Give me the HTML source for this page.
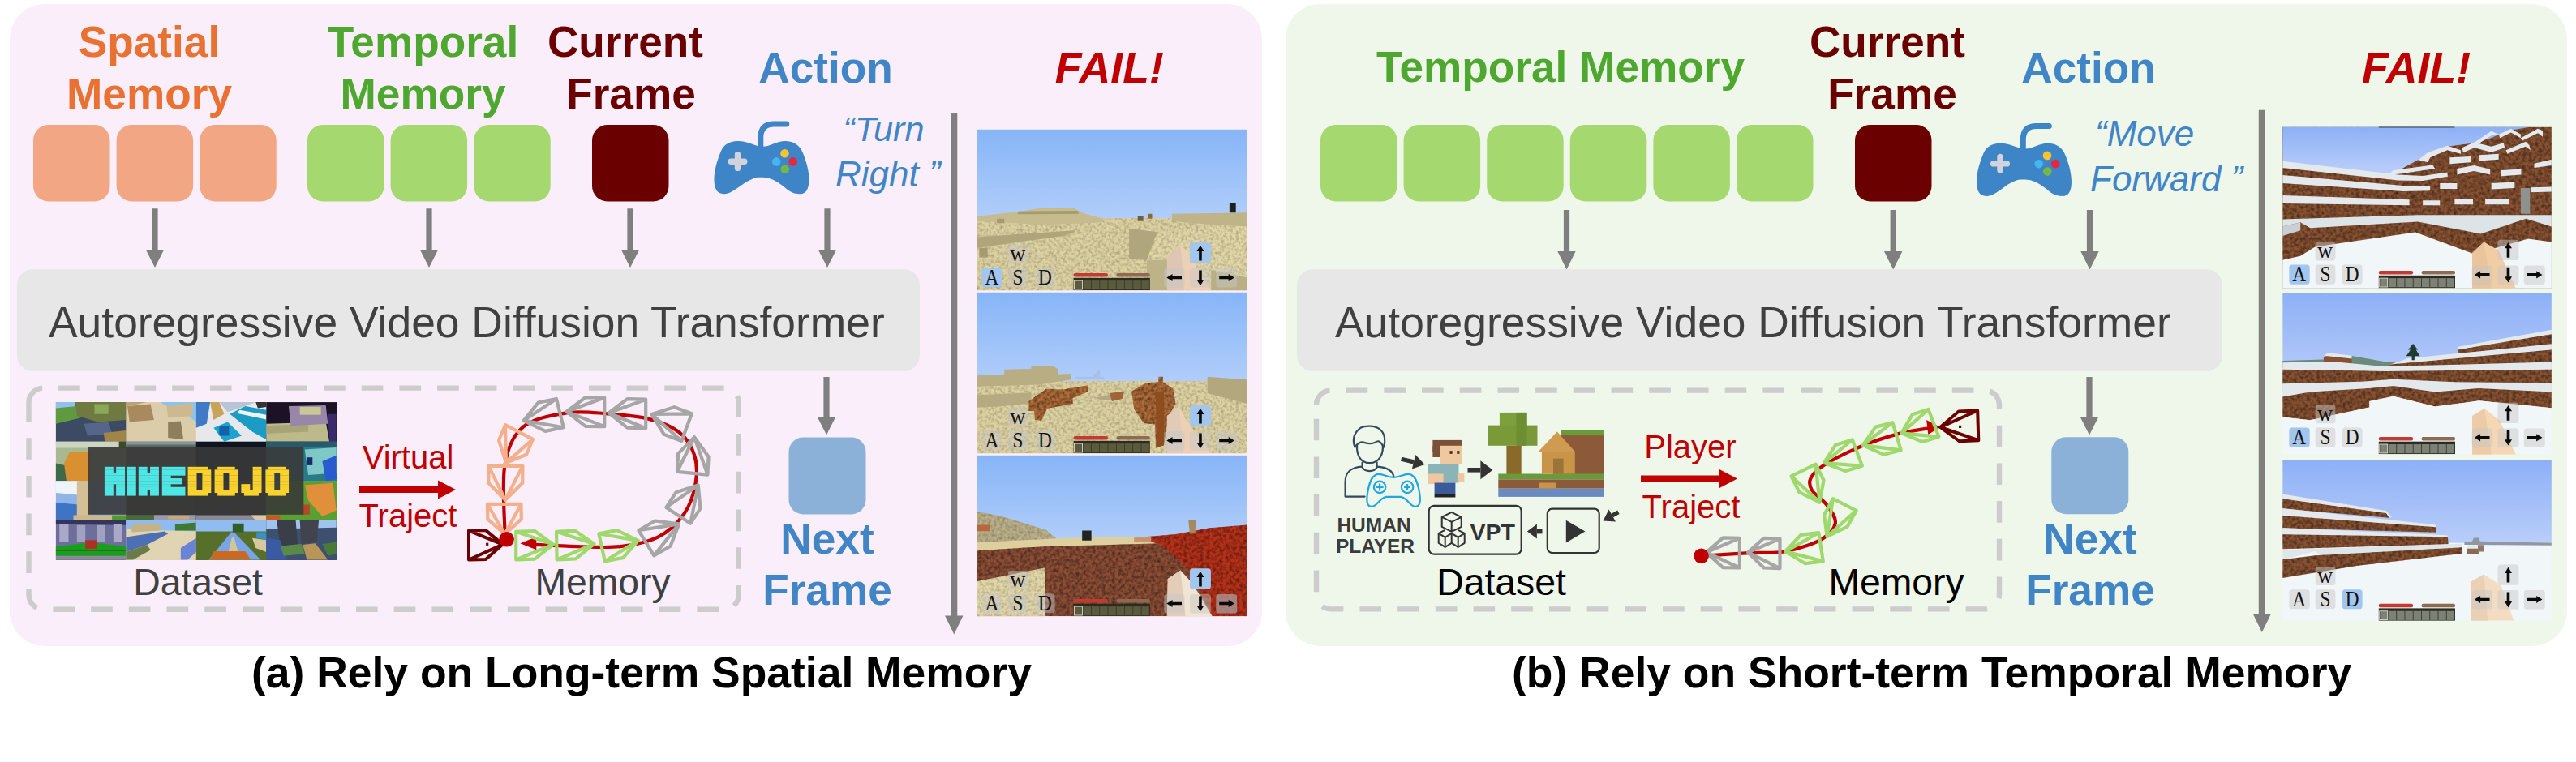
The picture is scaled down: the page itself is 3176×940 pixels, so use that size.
<!DOCTYPE html>
<html><head><meta charset="utf-8"><title>Memory comparison figure</title>
<style>
html,body{margin:0;padding:0;background:#fff;}
#c{position:relative;width:3176px;height:940px;overflow:hidden;background:#fff;font-family:"Liberation Sans", sans-serif;}
.p{position:absolute;}
.t{position:absolute;white-space:nowrap;}
svg.o{position:absolute;left:0;top:0;}
</style></head><body>
<div id="c">
<div class="p" style="left:12.3px;top:5px;width:1543.4px;height:791.6px;border-radius:43px;background:#f9eef9;"></div>
<div class="p" style="left:1585.2px;top:5px;width:1580px;height:791.6px;border-radius:43px;background:#eef7ea;"></div>
<svg class="o" width="3176" height="940" viewBox="0 0 3176 940">
<rect x="41.0" y="154.0" width="94.5" height="94.5" rx="19" fill="#f2a683" />
<rect x="143.6" y="154.0" width="94.5" height="94.5" rx="19" fill="#f2a683" />
<rect x="246.2" y="154.0" width="94.5" height="94.5" rx="19" fill="#f2a683" />
<rect x="379.0" y="154.0" width="94.5" height="94.5" rx="19" fill="#a5d86f" />
<rect x="481.6" y="154.0" width="94.5" height="94.5" rx="19" fill="#a5d86f" />
<rect x="584.2" y="154.0" width="94.5" height="94.5" rx="19" fill="#a5d86f" />
<rect x="730.0" y="154.0" width="94.5" height="94.5" rx="19" fill="#6b0000" />
<path d="M187.4 257.3H194.6V308.0H202.2L191.0 330.0L179.8 308.0H187.4Z" fill="#7f7f7f"/>
<path d="M525.4 257.3H532.6V308.0H540.2L529.0 330.0L517.8 308.0H525.4Z" fill="#7f7f7f"/>
<path d="M773.4 257.3H780.6V308.0H788.2L777.0 330.0L765.8 308.0H773.4Z" fill="#7f7f7f"/>
<path d="M1016.4 257.3H1023.6V308.0H1031.2L1020.0 330.0L1008.8 308.0H1016.4Z" fill="#7f7f7f"/>
<rect x="21.0" y="332.0" width="1113.0" height="126.0" rx="20" fill="#e7e7e7" />
<path d="M1172.3 139.0H1180.3V759.4H1187.5L1176.3 782.4L1165.0 759.4H1172.3Z" fill="#7f7f7f"/>
<path d="M35.5 496.6A18 18 0 0 1 53.5 478.6H892.8A18 18 0 0 1 910.8 496.6V733.7A18 18 0 0 1 892.8 751.7H53.5A18 18 0 0 1 35.5 733.7Z" fill="none" stroke="#cccccc" stroke-width="6.4" stroke-dasharray="26.65 20.05"/>
<path d="M443.0 600.0H540.0V592.5L562.0 604.0L540.0 615.5V608.0H443.0Z" fill="#c00000"/>
<path d="M1015.4 465.0H1022.6V514.5H1030.2L1019.0 536.5L1007.8 514.5H1015.4Z" fill="#7f7f7f"/>
<rect x="972.5" y="539.4" width="95.0" height="95.0" rx="18" fill="#8bb1d8" />
<rect x="1628.0" y="154.0" width="94.5" height="94.5" rx="19" fill="#a5d86f" />
<rect x="1730.6" y="154.0" width="94.5" height="94.5" rx="19" fill="#a5d86f" />
<rect x="1833.2" y="154.0" width="94.5" height="94.5" rx="19" fill="#a5d86f" />
<rect x="1935.8" y="154.0" width="94.5" height="94.5" rx="19" fill="#a5d86f" />
<rect x="2038.4" y="154.0" width="94.5" height="94.5" rx="19" fill="#a5d86f" />
<rect x="2141.0" y="154.0" width="94.5" height="94.5" rx="19" fill="#a5d86f" />
<rect x="2287.0" y="154.0" width="94.5" height="94.5" rx="19" fill="#6b0000" />
<path d="M1927.9 259.0H1935.1V310.1H1942.7L1931.5 332.6L1920.3 310.1H1927.9Z" fill="#7f7f7f"/>
<path d="M2330.6 259.0H2337.8V310.1H2345.4L2334.2 332.6L2323.0 310.1H2330.6Z" fill="#7f7f7f"/>
<path d="M2572.9 259.0H2580.1V310.1H2587.7L2576.5 332.6L2565.3 310.1H2572.9Z" fill="#7f7f7f"/>
<rect x="1599.0" y="332.0" width="1141.0" height="126.0" rx="20" fill="#e7e7e7" />
<path d="M2784.8 135.8H2792.8V757.0H2800.1L2788.8 780.0L2777.6 757.0H2784.8Z" fill="#7f7f7f"/>
<path d="M1623 499.6A18 18 0 0 1 1641 481.6H2447A18 18 0 0 1 2465 499.6V733.4000000000001A18 18 0 0 1 2447 751.4000000000001H1641A18 18 0 0 1 1623 733.4000000000001Z" fill="none" stroke="#cccccc" stroke-width="6.4" stroke-dasharray="26.65 20.05"/>
<path d="M2023.0 586.5H2120.0V579.0L2142.0 590.5L2120.0 602.0V594.5H2023.0Z" fill="#c00000"/>
<path d="M2572.4 465.0H2579.6V514.5H2587.2L2576.0 536.5L2564.8 514.5H2572.4Z" fill="#7f7f7f"/>
<rect x="2529.3" y="539.2" width="95.0" height="95.0" rx="18" fill="#8bb1d8" />
<g transform="translate(880.5,149.5)"><path d="M57.3 31 V20 Q57.3 3.4 74 3.4 H89.3" fill="none" stroke="#3d85c6" stroke-width="7" stroke-linecap="round"/><path d="M29 24.5 C40 24 50 31 59.7 31.3 C70 31 78 24 88.7 24.5 C100 25 106 31 109.1 38.5 C114 50 117 62 117 72 C117 84 113 90 105.7 89.7 C98 89.5 94 87 90.4 84.5 C84 79 80 76 75 73.5 C69 70 64 69.2 58 69.2 C53 69.2 50 69.5 47.7 70.9 C42 73 36 77 30.7 81.1 C24 86 18 90 11.9 89.7 C4 89.5 0 84 0 72 C0 62 3 50 8.5 36.8 C12 29 18 25 29 24.5Z" fill="#3d85c6"/><rect x="17" y="46" width="24" height="7.4" rx="3.7" fill="#d3d3db"/><rect x="25.3" y="37.6" width="7.4" height="24" rx="3.7" fill="#d3d3db"/><circle cx="87" cy="39.7" r="5.3" fill="#f7c331"/><circle cx="97.2" cy="49.9" r="5.3" fill="#e8273f"/><circle cx="76.7" cy="49.9" r="5.3" fill="#43b6f2"/><circle cx="87.3" cy="59.3" r="5.3" fill="#74b843"/></g>
<g transform="translate(2437,152.2)"><path d="M57.3 31 V20 Q57.3 3.4 74 3.4 H89.3" fill="none" stroke="#3d85c6" stroke-width="7" stroke-linecap="round"/><path d="M29 24.5 C40 24 50 31 59.7 31.3 C70 31 78 24 88.7 24.5 C100 25 106 31 109.1 38.5 C114 50 117 62 117 72 C117 84 113 90 105.7 89.7 C98 89.5 94 87 90.4 84.5 C84 79 80 76 75 73.5 C69 70 64 69.2 58 69.2 C53 69.2 50 69.5 47.7 70.9 C42 73 36 77 30.7 81.1 C24 86 18 90 11.9 89.7 C4 89.5 0 84 0 72 C0 62 3 50 8.5 36.8 C12 29 18 25 29 24.5Z" fill="#3d85c6"/><rect x="17" y="46" width="24" height="7.4" rx="3.7" fill="#d3d3db"/><rect x="25.3" y="37.6" width="7.4" height="24" rx="3.7" fill="#d3d3db"/><circle cx="87" cy="39.7" r="5.3" fill="#f7c331"/><circle cx="97.2" cy="49.9" r="5.3" fill="#e8273f"/><circle cx="76.7" cy="49.9" r="5.3" fill="#43b6f2"/><circle cx="87.3" cy="59.3" r="5.3" fill="#74b843"/></g>
<g transform="translate(68.9,496.1)"><rect x="0.0" y="0.0" width="86.9" height="49.0" fill="#3d4a63"/><polygon points="0.0,0.0 24.2,0.0 24.2,7.3 0.0,9.7" fill="#8fc0ee"/><polygon points="0.0,7.3 25.9,4.9 30.3,19.4 0.0,26.7" fill="#5f9a3e"/><polygon points="24.2,0.0 86.5,0.0 86.5,21.9 51.9,24.3 25.9,17.0" fill="#6f7a40"/><polygon points="47.5,2.4 64.8,2.4 64.8,14.6 47.5,14.6" fill="#8aa85a"/><polygon points="34.6,26.7 64.8,24.3 69.2,38.9 38.9,41.3" fill="#56668a"/><polygon points="58.8,37.9 86.5,35.0 86.5,48.6 60.5,48.6" fill="#a08448"/><rect x="86.5" y="0.0" width="86.9" height="49.0" fill="#dccdaa"/><polygon points="129.7,0.0 172.9,0.0 172.9,24.3 153.9,9.7 134.0,3.9" fill="#8cc2ee"/><polygon points="88.2,4.9 116.7,2.4 121.0,21.9 90.8,24.3" fill="#a98a5e"/><polygon points="136.6,4.9 168.6,1.0 168.6,17.0 138.3,19.4" fill="#cdb98f"/><polygon points="138.3,24.3 153.9,23.3 157.3,46.2 138.3,43.8" fill="#8e7f5c"/><polygon points="86.5,0.0 112.4,0.0 88.2,4.9 86.5,14.6" fill="#b7a27a"/><rect x="172.9" y="0.0" width="86.9" height="49.0" fill="#e6e8ec"/><polygon points="172.9,0.0 190.2,0.0 185.9,26.7 172.9,31.6" fill="#3f7ac6"/><polygon points="190.2,0.0 201.4,0.0 207.5,14.6 194.5,21.9" fill="#c8a45a"/><polygon points="214.4,14.6 233.4,4.9 259.4,9.7 259.4,46.2 242.1,36.5" fill="#1b9cc4"/><polygon points="226.5,9.7 259.4,15.6 259.4,21.4 223.0,13.6" fill="#eef2f4"/><polygon points="194.5,31.6 211.8,24.3 229.1,41.3 207.5,48.6" fill="#1aa3cc"/><polygon points="201.4,30.1 213.5,29.2 213.5,41.3 201.4,41.3" fill="#1560a8"/><polygon points="246.4,0.0 259.4,0.0 259.4,5.8 249.0,7.3" fill="#333"/><polygon points="201.4,0.0 246.4,0.0 233.4,4.9 211.8,12.2" fill="#b9c4d4"/><rect x="259.4" y="0.0" width="86.9" height="49.0" fill="#1c1226"/><polygon points="259.4,26.7 332.8,24.3 337.2,48.6 259.4,48.6" fill="#bdb98a"/><polygon points="259.4,29.2 311.2,26.7 311.2,36.5 259.4,38.9" fill="#a8a478"/><polygon points="287.0,4.9 332.8,3.9 335.4,26.7 289.6,29.2" fill="#9a86a8"/><polygon points="300.8,5.8 326.8,5.8 326.8,15.6 300.8,15.6" fill="#c9c795"/><polygon points="335.4,14.6 345.8,14.6 345.8,48.6 337.2,48.6" fill="#3a2a6a"/><rect x="0.0" y="48.6" width="86.9" height="49.0" fill="#a8b890"/><polygon points="0.0,48.6 77.8,48.6 77.8,56.4 0.0,56.4" fill="#cdd4c0"/><polygon points="77.8,48.6 86.5,48.6 86.5,56.4 77.8,56.4" fill="#3a4a2a"/><polygon points="17.3,60.8 43.2,60.8 43.2,97.2 13.0,97.2 8.6,77.8" fill="#d89030"/><polygon points="0.0,75.4 10.4,77.8 13.0,97.2 0.0,97.2" fill="#3f6a4a"/><rect x="86.5" y="48.6" width="86.9" height="49.0" fill="#5a6a5e"/><polygon points="86.5,48.6 172.9,48.6 172.9,52.5 86.5,52.5" fill="#8a94a8"/><rect x="172.9" y="48.6" width="86.9" height="49.0" fill="#0e1420"/><rect x="259.4" y="48.6" width="86.9" height="49.0" fill="#2a7a88"/><polygon points="306.9,58.3 345.8,55.9 345.8,87.5 311.2,89.9" fill="#7fc8c8"/><polygon points="328.5,72.9 345.8,65.6 345.8,94.8 332.8,97.2" fill="#2a5ad0"/><polygon points="309.5,68.1 316.4,68.1 316.4,77.8 309.5,77.8" fill="#1a2a6a"/><polygon points="259.4,48.6 345.8,48.6 345.8,55.4 259.4,55.4" fill="#2a5a6a"/><rect x="0.0" y="97.2" width="86.9" height="49.0" fill="#8fb4e6"/><polygon points="0.0,97.2 27.7,97.2 27.7,114.3 0.0,111.8" fill="#eef4fa"/><polygon points="0.0,124.0 27.7,126.4 27.7,145.9 0.0,145.9" fill="#3f74c4"/><polygon points="25.9,97.2 40.6,97.2 40.6,141.0 25.9,141.0" fill="#d4c094"/><polygon points="21.6,139.5 86.5,139.5 86.5,145.9 21.6,145.9" fill="#cbb98a"/><polygon points="69.2,139.5 86.5,139.5 86.5,145.9 69.2,145.9" fill="#4f9a2a"/><rect x="86.5" y="97.2" width="86.9" height="49.0" fill="#3d3d3a"/><polygon points="86.5,139.1 121.0,139.1 121.0,145.9 86.5,145.9" fill="#4a6a3a"/><polygon points="121.0,139.1 172.9,139.1 172.9,145.9 121.0,145.9" fill="#9a9aa8"/><polygon points="138.3,140.0 164.3,140.0 164.3,144.4 138.3,144.4" fill="#c8a878"/><rect x="172.9" y="97.2" width="86.9" height="49.0" fill="#333334"/><polygon points="172.9,139.5 259.4,139.5 259.4,145.9 172.9,145.9" fill="#8a8a92"/><polygon points="240.3,139.5 259.4,139.5 259.4,145.9 246.4,145.9" fill="#d8c8a0"/><rect x="259.4" y="97.2" width="86.9" height="49.0" fill="#5aa030"/><polygon points="306.9,102.1 341.5,99.7 345.8,133.7 328.5,141.0 311.2,121.5" fill="#e0903a"/><polygon points="259.4,139.5 276.6,139.5 276.6,145.9 259.4,145.9" fill="#c85a20"/><polygon points="304.3,126.4 312.9,126.4 312.9,138.6 304.3,138.6" fill="#b8442a"/><rect x="0.0" y="145.9" width="86.9" height="49.0" fill="#6e6e9c"/><polygon points="0.0,145.9 86.5,145.9 86.5,151.7 0.0,150.7" fill="#34345c"/><polygon points="4.3,150.7 15.6,150.7 15.6,172.6 4.3,172.6" fill="#a8a8c8"/><polygon points="25.9,151.7 36.3,151.7 36.3,172.6 25.9,172.6" fill="#a0a0c0"/><polygon points="50.1,151.7 60.5,151.7 60.5,172.6 50.1,172.6" fill="#a0a0c0"/><polygon points="70.9,150.7 82.1,150.7 82.1,172.6 70.9,172.6" fill="#a8a8c8"/><polygon points="0.0,177.9 43.2,173.1 86.5,177.9 86.5,189.6 0.0,189.6" fill="#18a01c"/><polygon points="0.0,189.6 86.5,189.6 86.5,194.5 0.0,194.5" fill="#8a8a92"/><polygon points="36.3,170.2 50.1,170.2 50.1,180.9 36.3,180.9" fill="#b03028"/><polygon points="0.0,181.8 86.5,181.8 86.5,183.8 0.0,183.8" fill="#2a6a22"/><rect x="86.5" y="145.9" width="86.9" height="49.0" fill="#e0d4b2"/><polygon points="86.5,145.9 172.9,145.9 172.9,159.5 86.5,156.6" fill="#8fbcf0"/><polygon points="93.4,151.7 112.4,148.8 129.7,151.7 129.7,158.5 93.4,160.4" fill="#c4b288"/><polygon points="86.5,166.3 134.0,159.5 138.3,162.4 112.4,176.0 86.5,184.8" fill="#4d70b4"/><polygon points="147.0,150.7 172.9,148.3 172.9,158.5 147.0,158.5" fill="#3f7a30"/><polygon points="153.9,179.9 172.9,167.7 172.9,184.8 162.5,194.5 153.9,194.5" fill="#6a82d8"/><polygon points="86.5,184.8 112.4,176.0 116.7,182.3 95.1,194.5 86.5,194.5" fill="#6a7a4a"/><rect x="172.9" y="145.9" width="86.9" height="49.0" fill="#56702c"/><polygon points="172.9,145.9 259.4,145.9 259.4,159.5 172.9,159.5" fill="#90bcf0"/><polygon points="216.1,160.4 219.6,160.4 252.4,194.5 188.5,194.5" fill="#78a4e8"/><polygon points="217.0,166.3 219.6,166.3 224.8,184.8 212.7,184.8" fill="#d4c49a"/><polygon points="194.5,183.8 233.4,183.8 240.3,194.5 190.2,194.5" fill="#c86a22"/><polygon points="217.9,149.7 231.7,149.7 231.7,160.4 217.9,160.4" fill="#2f5f24"/><polygon points="247.2,160.4 259.4,160.4 259.4,170.2 247.2,167.7" fill="#3a90c0"/><polygon points="242.1,167.7 259.4,170.2 259.4,184.8 246.4,179.9" fill="#d8c8a0"/><rect x="259.4" y="145.9" width="86.9" height="49.0" fill="#3d5070"/><polygon points="259.4,145.9 345.8,145.9 345.8,154.6 259.4,156.6" fill="#a0c4f0"/><polygon points="272.3,145.9 295.7,145.9 298.3,177.5 276.6,177.5" fill="#3a3e48"/><polygon points="300.8,145.9 324.2,145.9 321.6,172.6 302.6,175.0" fill="#41444e"/><polygon points="259.4,167.7 276.6,170.2 285.3,194.5 259.4,194.5" fill="#3a5aa4"/><polygon points="304.3,176.0 319.9,174.1 335.4,194.5 309.5,194.5" fill="#b8965a"/><polygon points="276.6,177.5 302.6,175.0 306.9,187.2 281.0,189.6" fill="#5a8a4a"/><polygon points="328.5,175.0 345.8,172.6 345.8,187.2 335.4,189.6" fill="#4a7a3a"/><rect x="40.1" y="55.9" width="265.3" height="82.8" fill="#383838" fill-opacity="0.9"/><rect x="60.00" y="79.70" width="10.88" height="3.76" fill="#4fe6e6"/><rect x="74.24" y="79.70" width="10.88" height="3.76" fill="#4fe6e6"/><rect x="60.00" y="83.26" width="10.88" height="3.76" fill="#4fe6e6"/><rect x="74.24" y="83.26" width="10.88" height="3.76" fill="#4fe6e6"/><rect x="60.00" y="86.82" width="25.12" height="3.76" fill="#4fe6e6"/><rect x="60.00" y="90.38" width="25.12" height="3.76" fill="#4fe6e6"/><rect x="60.00" y="93.94" width="25.12" height="3.76" fill="#4fe6e6"/><rect x="60.00" y="97.50" width="25.12" height="3.76" fill="#4fe6e6"/><rect x="60.00" y="101.06" width="10.88" height="3.76" fill="#4fe6e6"/><rect x="74.24" y="101.06" width="10.88" height="3.76" fill="#4fe6e6"/><rect x="60.00" y="104.62" width="10.88" height="3.76" fill="#4fe6e6"/><rect x="74.24" y="104.62" width="10.88" height="3.76" fill="#4fe6e6"/><rect x="60.00" y="108.18" width="10.88" height="3.76" fill="#4fe6e6"/><rect x="74.24" y="108.18" width="10.88" height="3.76" fill="#4fe6e6"/><rect x="60.00" y="111.74" width="10.88" height="3.76" fill="#4fe6e6"/><rect x="74.24" y="111.74" width="10.88" height="3.76" fill="#4fe6e6"/><rect x="88.00" y="79.70" width="10.88" height="3.76" fill="#4fe6e6"/><rect x="88.00" y="83.26" width="10.88" height="3.76" fill="#4fe6e6"/><rect x="88.00" y="86.82" width="10.88" height="3.76" fill="#4fe6e6"/><rect x="88.00" y="90.38" width="10.88" height="3.76" fill="#4fe6e6"/><rect x="88.00" y="93.94" width="10.88" height="3.76" fill="#4fe6e6"/><rect x="88.00" y="97.50" width="10.88" height="3.76" fill="#4fe6e6"/><rect x="88.00" y="101.06" width="10.88" height="3.76" fill="#4fe6e6"/><rect x="88.00" y="104.62" width="10.88" height="3.76" fill="#4fe6e6"/><rect x="88.00" y="108.18" width="10.88" height="3.76" fill="#4fe6e6"/><rect x="88.00" y="111.74" width="10.88" height="3.76" fill="#4fe6e6"/><rect x="101.90" y="79.70" width="10.88" height="3.76" fill="#4fe6e6"/><rect x="116.14" y="79.70" width="10.88" height="3.76" fill="#4fe6e6"/><rect x="101.90" y="83.26" width="10.88" height="3.76" fill="#4fe6e6"/><rect x="116.14" y="83.26" width="10.88" height="3.76" fill="#4fe6e6"/><rect x="101.90" y="86.82" width="25.12" height="3.76" fill="#4fe6e6"/><rect x="101.90" y="90.38" width="25.12" height="3.76" fill="#4fe6e6"/><rect x="101.90" y="93.94" width="25.12" height="3.76" fill="#4fe6e6"/><rect x="101.90" y="97.50" width="25.12" height="3.76" fill="#4fe6e6"/><rect x="101.90" y="101.06" width="25.12" height="3.76" fill="#4fe6e6"/><rect x="101.90" y="104.62" width="25.12" height="3.76" fill="#4fe6e6"/><rect x="101.90" y="108.18" width="10.88" height="3.76" fill="#4fe6e6"/><rect x="116.14" y="108.18" width="10.88" height="3.76" fill="#4fe6e6"/><rect x="101.90" y="111.74" width="10.88" height="3.76" fill="#4fe6e6"/><rect x="116.14" y="111.74" width="10.88" height="3.76" fill="#4fe6e6"/><rect x="130.90" y="79.70" width="28.68" height="3.76" fill="#4fe6e6"/><rect x="130.90" y="83.26" width="28.68" height="3.76" fill="#4fe6e6"/><rect x="130.90" y="86.82" width="28.68" height="3.76" fill="#4fe6e6"/><rect x="130.90" y="90.38" width="10.88" height="3.76" fill="#4fe6e6"/><rect x="130.90" y="93.94" width="25.12" height="3.76" fill="#4fe6e6"/><rect x="130.90" y="97.50" width="25.12" height="3.76" fill="#4fe6e6"/><rect x="130.90" y="101.06" width="10.88" height="3.76" fill="#4fe6e6"/><rect x="130.90" y="104.62" width="28.68" height="3.76" fill="#4fe6e6"/><rect x="130.90" y="108.18" width="28.68" height="3.76" fill="#4fe6e6"/><rect x="130.90" y="111.74" width="28.68" height="3.76" fill="#4fe6e6"/><rect x="162.70" y="79.70" width="25.12" height="3.76" fill="#f9d22e"/><rect x="162.70" y="83.26" width="28.68" height="3.76" fill="#f9d22e"/><rect x="162.70" y="86.82" width="10.88" height="3.76" fill="#f9d22e"/><rect x="180.50" y="86.82" width="10.88" height="3.76" fill="#f9d22e"/><rect x="162.70" y="90.38" width="10.88" height="3.76" fill="#f9d22e"/><rect x="180.50" y="90.38" width="10.88" height="3.76" fill="#f9d22e"/><rect x="162.70" y="93.94" width="10.88" height="3.76" fill="#f9d22e"/><rect x="180.50" y="93.94" width="10.88" height="3.76" fill="#f9d22e"/><rect x="162.70" y="97.50" width="10.88" height="3.76" fill="#f9d22e"/><rect x="180.50" y="97.50" width="10.88" height="3.76" fill="#f9d22e"/><rect x="162.70" y="101.06" width="10.88" height="3.76" fill="#f9d22e"/><rect x="180.50" y="101.06" width="10.88" height="3.76" fill="#f9d22e"/><rect x="162.70" y="104.62" width="10.88" height="3.76" fill="#f9d22e"/><rect x="180.50" y="104.62" width="10.88" height="3.76" fill="#f9d22e"/><rect x="162.70" y="108.18" width="28.68" height="3.76" fill="#f9d22e"/><rect x="162.70" y="111.74" width="25.12" height="3.76" fill="#f9d22e"/><rect x="199.26" y="79.70" width="21.56" height="3.76" fill="#f9d22e"/><rect x="195.70" y="83.26" width="28.68" height="3.76" fill="#f9d22e"/><rect x="195.70" y="86.82" width="10.88" height="3.76" fill="#f9d22e"/><rect x="213.50" y="86.82" width="10.88" height="3.76" fill="#f9d22e"/><rect x="195.70" y="90.38" width="10.88" height="3.76" fill="#f9d22e"/><rect x="213.50" y="90.38" width="10.88" height="3.76" fill="#f9d22e"/><rect x="195.70" y="93.94" width="10.88" height="3.76" fill="#f9d22e"/><rect x="213.50" y="93.94" width="10.88" height="3.76" fill="#f9d22e"/><rect x="195.70" y="97.50" width="10.88" height="3.76" fill="#f9d22e"/><rect x="213.50" y="97.50" width="10.88" height="3.76" fill="#f9d22e"/><rect x="195.70" y="101.06" width="10.88" height="3.76" fill="#f9d22e"/><rect x="213.50" y="101.06" width="10.88" height="3.76" fill="#f9d22e"/><rect x="195.70" y="104.62" width="10.88" height="3.76" fill="#f9d22e"/><rect x="213.50" y="104.62" width="10.88" height="3.76" fill="#f9d22e"/><rect x="195.70" y="108.18" width="28.68" height="3.76" fill="#f9d22e"/><rect x="199.26" y="111.74" width="21.56" height="3.76" fill="#f9d22e"/><rect x="242.74" y="79.70" width="10.88" height="3.76" fill="#f9d22e"/><rect x="242.74" y="83.26" width="10.88" height="3.76" fill="#f9d22e"/><rect x="242.74" y="86.82" width="10.88" height="3.76" fill="#f9d22e"/><rect x="242.74" y="90.38" width="10.88" height="3.76" fill="#f9d22e"/><rect x="242.74" y="93.94" width="10.88" height="3.76" fill="#f9d22e"/><rect x="242.74" y="97.50" width="10.88" height="3.76" fill="#f9d22e"/><rect x="228.50" y="101.06" width="10.88" height="3.76" fill="#f9d22e"/><rect x="242.74" y="101.06" width="10.88" height="3.76" fill="#f9d22e"/><rect x="228.50" y="104.62" width="10.88" height="3.76" fill="#f9d22e"/><rect x="242.74" y="104.62" width="10.88" height="3.76" fill="#f9d22e"/><rect x="228.50" y="108.18" width="25.12" height="3.76" fill="#f9d22e"/><rect x="232.06" y="111.74" width="18.00" height="3.76" fill="#f9d22e"/><rect x="262.06" y="79.70" width="21.56" height="3.76" fill="#f9d22e"/><rect x="258.50" y="83.26" width="28.68" height="3.76" fill="#f9d22e"/><rect x="258.50" y="86.82" width="10.88" height="3.76" fill="#f9d22e"/><rect x="276.30" y="86.82" width="10.88" height="3.76" fill="#f9d22e"/><rect x="258.50" y="90.38" width="10.88" height="3.76" fill="#f9d22e"/><rect x="276.30" y="90.38" width="10.88" height="3.76" fill="#f9d22e"/><rect x="258.50" y="93.94" width="10.88" height="3.76" fill="#f9d22e"/><rect x="276.30" y="93.94" width="10.88" height="3.76" fill="#f9d22e"/><rect x="258.50" y="97.50" width="10.88" height="3.76" fill="#f9d22e"/><rect x="276.30" y="97.50" width="10.88" height="3.76" fill="#f9d22e"/><rect x="258.50" y="101.06" width="10.88" height="3.76" fill="#f9d22e"/><rect x="276.30" y="101.06" width="10.88" height="3.76" fill="#f9d22e"/><rect x="258.50" y="104.62" width="10.88" height="3.76" fill="#f9d22e"/><rect x="276.30" y="104.62" width="10.88" height="3.76" fill="#f9d22e"/><rect x="258.50" y="108.18" width="28.68" height="3.76" fill="#f9d22e"/><rect x="262.06" y="111.74" width="21.56" height="3.76" fill="#f9d22e"/></g>
<path d="M622.4 655.8 C622.4 642.2 618.6 595.5 622.4 573.9 C626.1 552.4 632.3 537.5 645.0 526.7 C657.7 515.9 681.3 512.1 698.6 509.4 C715.9 506.6 732.2 509.1 749.0 510.3 C765.8 511.5 784.7 512.8 799.4 516.6 C814.1 520.4 827.7 525.5 837.2 533.0 C846.6 540.4 852.7 550.8 856.1 561.3 C859.5 571.8 859.7 583.9 857.6 596.0 C855.5 608.1 851.1 622.8 843.5 633.8 C835.9 644.8 825.1 655.4 812.0 662.1 C798.8 668.8 781.5 672.1 764.7 674.1 C747.9 676.1 729.6 674.5 711.2 674.1 C692.8 673.7 663.9 672.0 654.5 671.6 " fill="none" stroke="#c00000" stroke-width="4.2"/>
<polygon points="641.3,670.3 661.3,662.3 661.3,678.3" fill="#c00000"/>
<path d="M636.2 655.8L659.2 655.0L682.2 671.6L659.2 689.7L636.2 690.5ZM636.2 655.8L682.2 671.6L636.2 690.5" fill="none" stroke="#9fd96d" stroke-width="4.2" stroke-linejoin="round"/>
<path d="M686.0 655.8L709.1 654.7L732.6 670.9L709.8 689.4L686.6 690.5ZM686.0 655.8L732.6 670.9L686.6 690.5" fill="none" stroke="#9fd96d" stroke-width="4.2" stroke-linejoin="round"/>
<path d="M738.3 658.3L760.6 654.1L786.8 666.9L768.2 688.1L745.8 692.4ZM738.3 658.3L786.8 666.9L745.8 692.4" fill="none" stroke="#9fd96d" stroke-width="4.2" stroke-linejoin="round"/>
<path d="M787.4 654.3L807.6 642.5L837.2 646.4L826.5 673.7L806.3 685.4ZM787.4 654.3L837.2 646.4L806.3 685.4" fill="none" stroke="#a6a6a6" stroke-width="4.2" stroke-linejoin="round"/>
<path d="M821.4 625.9L833.6 607.2L860.8 598.5L863.5 627.1L851.3 645.7ZM821.4 625.9L860.8 598.5L851.3 645.7" fill="none" stroke="#a6a6a6" stroke-width="4.2" stroke-linejoin="round"/>
<path d="M835.0 581.8L836.1 559.6L856.1 539.3L873.6 563.4L872.4 585.6ZM835.0 581.8L856.1 539.3L872.4 585.6" fill="none" stroke="#a6a6a6" stroke-width="4.2" stroke-linejoin="round"/>
<path d="M852.9 510.3L831.3 502.2L803.5 510.9L818.7 535.9L840.3 544.0ZM852.9 510.3L803.5 510.9L840.3 544.0" fill="none" stroke="#a6a6a6" stroke-width="4.2" stroke-linejoin="round"/>
<path d="M796.2 492.7L773.4 492.1L750.6 509.4L773.4 527.7L796.2 528.3ZM796.2 492.7L750.6 509.4L796.2 528.3" fill="none" stroke="#a6a6a6" stroke-width="4.2" stroke-linejoin="round"/>
<path d="M745.2 490.5L721.9 490.2L698.6 507.8L721.9 525.8L745.2 526.1ZM745.2 490.5L698.6 507.8L745.2 526.1" fill="none" stroke="#a6a6a6" stroke-width="4.2" stroke-linejoin="round"/>
<path d="M686.0 492.0L663.6 496.6L645.7 518.8L672.4 531.9L694.8 527.3ZM686.0 492.0L645.7 518.8L694.8 527.3" fill="none" stroke="#a6a6a6" stroke-width="4.2" stroke-linejoin="round"/>
<path d="M623.0 524.2L615.0 543.1L623.9 570.8L649.0 560.7L657.0 541.8ZM623.0 524.2L623.9 570.8L657.0 541.8" fill="none" stroke="#f4b08d" stroke-width="4.2" stroke-linejoin="round"/>
<path d="M602.5 574.9L602.3 595.8L623.0 616.8L644.2 595.8L644.4 574.9ZM602.5 574.9L623.0 616.8L644.4 574.9" fill="none" stroke="#f4b08d" stroke-width="4.2" stroke-linejoin="round"/>
<path d="M600.9 621.8L601.3 640.4L622.4 659.0L642.8 640.4L642.5 621.8ZM600.9 621.8L622.4 659.0L642.5 621.8" fill="none" stroke="#f4b08d" stroke-width="4.2" stroke-linejoin="round"/>
<path d="M578.0 654.6L598.9 654.1L619.8 671.6L598.9 690.0L578.0 690.5ZM578.0 654.6L619.8 671.6L578.0 690.5" fill="none" stroke="#6b0000" stroke-width="4.0" stroke-linejoin="round"/>
<rect x="599.1" y="669.7" width="3.2" height="3.2" fill="#6b0000"/>
<circle cx="624.6" cy="665.3" r="9.3" fill="#c00000"/>
<path d="M2097.5 685.8 C2107.4 685.2 2139.7 683.1 2157.0 682.1 C2174.3 681.2 2186.4 683.1 2201.1 680.3 C2215.8 677.5 2234.9 671.4 2245.2 665.6 C2255.5 659.8 2261.6 652.4 2262.8 645.4 C2264.1 638.3 2257.3 630.1 2252.6 623.3 C2247.8 616.6 2237.6 610.5 2234.2 605.0 C2230.8 599.4 2229.9 595.5 2232.3 590.3 C2234.8 585.0 2238.2 580.5 2248.9 573.7 C2259.6 567.0 2281.3 556.3 2296.7 549.8 C2312.0 543.4 2326.7 538.8 2340.8 535.1 C2354.8 531.5 2374.4 529.0 2381.2 527.8 " fill="none" stroke="#c00000" stroke-width="4.2"/>
<polygon points="2392.2,527.0 2375.2,518.0 2377.2,536.0" fill="#c00000"/>
<path d="M2144.9 663.8L2124.3 663.4L2103.7 681.4L2124.3 700.1L2144.9 700.5ZM2144.9 663.8L2103.7 681.4L2144.9 700.5" fill="none" stroke="#a6a6a6" stroke-width="4.2" stroke-linejoin="round"/>
<path d="M2194.5 664.5L2174.8 663.8L2155.2 681.4L2174.8 700.5L2194.5 701.2ZM2194.5 664.5L2155.2 681.4L2194.5 701.2" fill="none" stroke="#a6a6a6" stroke-width="4.2" stroke-linejoin="round"/>
<path d="M2242.3 657.1L2220.3 659.9L2201.1 680.3L2225.8 695.2L2247.8 692.4ZM2242.3 657.1L2201.1 680.3L2247.8 692.4" fill="none" stroke="#9fd96d" stroke-width="4.2" stroke-linejoin="round"/>
<path d="M2259.9 615.2L2249.1 634.9L2252.6 661.9L2277.7 649.6L2288.6 629.9ZM2259.9 615.2L2252.6 661.9L2288.6 629.9" fill="none" stroke="#9fd96d" stroke-width="4.2" stroke-linejoin="round"/>
<path d="M2208.5 587.3L2218.4 607.2L2243.4 619.7L2248.5 592.5L2238.6 572.6ZM2208.5 587.3L2243.4 619.7L2238.6 572.6" fill="none" stroke="#9fd96d" stroke-width="4.2" stroke-linejoin="round"/>
<path d="M2283.8 542.5L2263.3 548.7L2248.9 571.1L2275.4 581.1L2295.9 574.8ZM2283.8 542.5L2248.9 571.1L2295.9 574.8" fill="none" stroke="#9fd96d" stroke-width="4.2" stroke-linejoin="round"/>
<path d="M2333.4 521.2L2312.5 526.6L2296.7 549.1L2322.8 560.8L2343.7 555.3ZM2333.4 521.2L2296.7 549.1L2343.7 555.3" fill="none" stroke="#9fd96d" stroke-width="4.2" stroke-linejoin="round"/>
<path d="M2377.5 505.0L2357.8 511.2L2344.4 534.4L2370.6 545.0L2390.4 538.8ZM2377.5 505.0L2344.4 534.4L2390.4 538.8" fill="none" stroke="#9fd96d" stroke-width="4.2" stroke-linejoin="round"/>
<path d="M2438.2 506.5L2414.9 507.6L2392.2 527.0L2416.0 544.3L2439.3 543.2ZM2438.2 506.5L2392.2 527.0L2439.3 543.2" fill="none" stroke="#6b0000" stroke-width="4.0" stroke-linejoin="round"/>
<rect x="2415.0" y="524.8" width="3.2" height="3.2" fill="#6b0000"/>
<circle cx="2097.5" cy="685.8" r="9.3" fill="#c00000"/>
<g fill="none" stroke="#34495e" stroke-width="2.2" stroke-linecap="round" stroke-linejoin="round"><path d="M1670.5 551.6 C1667.6 544.6 1667.6 534.6 1678.0 527.4 C1683.6 524.6 1696.6 524.6 1702.2 530.5 C1707.6 535.6 1708.6 544.6 1705.8 551.6"/><path d="M1670.5 551.6 C1672.6 547.6 1677.6 544.6 1681.1 545.6 C1685.6 547.1 1691.6 548.1 1695.6 545.6 C1698.6 543.6 1701.6 542.6 1705.8 551.6"/><path d="M1673.1 549.6 C1672.6 558.6 1675.6 571.1 1688.6 571.1 C1701.6 571.1 1705.6 558.6 1704.8 549.6"/><path d="M1679.6 570.6 V576.6 C1682.6 582.6 1694.6 582.6 1697.6 576.6 V570.6"/><path d="M1679.6 575.6 C1662.6 576.6 1658.6 584.6 1658.6 594.6 V612.6 H1682.6"/><path d="M1697.6 575.6 C1712.6 576.6 1717.6 582.6 1718.6 588.6"/></g>
<g transform="translate(1685.1,583.9)" fill="#eef7ea" stroke="#1ea7e1" stroke-width="2.2" stroke-linejoin="round"><path d="M14 1 C20 0 24 5 33 5 C42 5 46 0 52 1 C60 2 63 12 65 24 C67 36 65 41 60 41 C53 41 50 30 42 29 H24 C16 30 13 41 6 41 C1 41 -1 36 1 24 C3 12 6 2 14 1Z"/><circle cx="16" cy="17" r="7.2"/><circle cx="50" cy="17" r="7.2"/><path d="M16 12.5V21.5M11.5 17H20.5M50 13V21M46 17H54" fill="none"/></g>
<path d="M1727.6 566.2L1743.0 569.9" stroke="#333" stroke-width="5.2" fill="none"/>
<polygon points="1756.6,573.1 1740.9,578.6 1745.1,561.1" fill="#333"/>
<path d="M1809.5 579.8L1825.4 579.8" stroke="#333" stroke-width="5.6" fill="none"/>
<polygon points="1840.4,579.8 1825.4,591.3 1825.4,568.3" fill="#333"/>
<path d="M1901.5 655.4L1894.9 655.4" stroke="#333" stroke-width="6" fill="none"/>
<polygon points="1882.9,655.4 1894.9,646.4 1894.9,664.4" fill="#333"/>
<path d="M1995.4 631.7L1987.8 636.0" stroke="#333" stroke-width="5" fill="none"/>
<polygon points="1976.5,642.4 1983.6,628.6 1992.0,643.4" fill="#333"/>
<rect x="1766.4" y="542.9" width="35.9" height="14.8" fill="#7a5238"/>
<rect x="1775.5" y="549.8" width="27.1" height="22.7" fill="#f0c8a0"/>
<rect x="1766.4" y="549.8" width="9.1" height="14.2" fill="#7a5238"/>
<rect x="1760.7" y="572.5" width="37.8" height="23.0" fill="#8ab4b8"/>
<rect x="1760.7" y="584.5" width="18.9" height="12.6" fill="#f0c8a0"/>
<rect x="1796.9" y="583.9" width="8.5" height="10.1" fill="#f0c8a0"/>
<rect x="1768.6" y="595.5" width="25.8" height="13.5" fill="#3b5a9a"/>
<rect x="1768.6" y="609.1" width="25.8" height="4.4" fill="#222"/>
<rect x="1787.5" y="556.1" width="3.1" height="3.8" fill="#4a3020"/>
<rect x="1796.3" y="556.1" width="3.1" height="3.8" fill="#4a3020"/>
<rect x="1848.9" y="508.9" width="33.7" height="16.4" fill="#7da03c"/>
<rect x="1834.7" y="524.6" width="60.8" height="25.2" fill="#7a9a3a"/>
<rect x="1869.4" y="508.9" width="13.2" height="40.9" fill="#6e8e34"/>
<rect x="1857.4" y="549.8" width="18.3" height="35.3" fill="#8a6a2a"/>
<rect x="1915.0" y="530.9" width="62.0" height="54.2" fill="#8c5a38"/>
<rect x="1924.5" y="530.9" width="52.6" height="6.3" fill="#6a9a3a"/>
<polygon points="1915.0,530.9 1924.5,530.9 1924.5,540.4 1915.0,540.4" fill="#eef7ea"/>
<rect x="1847.3" y="584.5" width="129.8" height="6.9" fill="#6a9a3a"/>
<rect x="1847.3" y="591.4" width="129.8" height="11.3" fill="#8a5a3a"/>
<rect x="1847.3" y="602.8" width="129.8" height="10.1" fill="#6a8ac0"/>
<polygon points="1896.1,557.7 1919.8,532.5 1942.4,557.7" fill="#d09a50"/>
<rect x="1900.9" y="557.7" width="40.9" height="26.8" fill="#c89448"/>
<rect x="1915.0" y="565.6" width="12.6" height="18.9" fill="#9a7438"/>
<rect x="1897.7" y="595.5" width="20.5" height="6.6" fill="#c89448"/>
<rect x="1761.7" y="623.9" width="114.0" height="59.8" rx="6.5" fill="none" stroke="#333" stroke-width="2.2"/>
<g transform="translate(1789.7,653.8)" fill="none" stroke="#333" stroke-width="2" stroke-linejoin="round"><path d="M0 -22 L12 -16 V-4 L0 2 L-12 -4 V-16 Z M-12 -16 L0 -10 L12 -16 M0 -10 V2"/><path d="M-8 0 L-16 4 V16 L-8 21 L0 16 V4 M-16 4 L-8 9 L0 4 M-8 9 V21"/><path d="M8 0 L16 4 V16 L8 21 L0 16 M16 4 L8 9 L0 4 M8 9 V21"/></g>
<rect x="1907.8" y="627.6" width="63.9" height="54.5" rx="6" fill="none" stroke="#333" stroke-width="2.2"/>
<polygon points="1930.8,641.8 1930.8,669.5 1954.4,655.4" fill="#333"/>
<defs>
<linearGradient id="skyA" x1="0" y1="0" x2="0" y2="1"><stop offset="0" stop-color="#86b5f7"/><stop offset="1" stop-color="#b2cefa"/></linearGradient>
<linearGradient id="skyB" x1="0" y1="0" x2="0" y2="1"><stop offset="0" stop-color="#8db0f6"/><stop offset="1" stop-color="#bccffa"/></linearGradient>
<filter id="nz" x="0" y="0" width="100%" height="100%" color-interpolation-filters="sRGB"><feTurbulence type="fractalNoise" baseFrequency="0.085" numOctaves="2" seed="3" result="n"/>
<feColorMatrix in="n" type="matrix" values="0 0 0 0 0  0 0 0 0 0  0 0 0 0 0  0 0 0 0.5 -0.2" result="a"/>
<feComposite in="a" in2="SourceGraphic" operator="in" result="sp"/>
<feColorMatrix in="n" type="matrix" values="0 0 0 0 1  0 0 0 0 1  0 0 0 0 1  0 0.35 0 0 -0.14" result="b"/>
<feComposite in="b" in2="SourceGraphic" operator="in" result="sp2"/>
<feMerge><feMergeNode in="SourceGraphic"/><feMergeNode in="sp"/><feMergeNode in="sp2"/></feMerge></filter><filter id="nzd" x="0" y="0" width="100%" height="100%" color-interpolation-filters="sRGB"><feTurbulence type="fractalNoise" baseFrequency="0.075" numOctaves="2" seed="5" result="n"/>
<feColorMatrix in="n" type="matrix" values="0 0 0 0 0  0 0 0 0 0  0 0 0 0 0  0 0 0 0.95 -0.33" result="a"/>
<feComposite in="a" in2="SourceGraphic" operator="in" result="sp"/>
<feColorMatrix in="n" type="matrix" values="0 0 0 0 1  0 0 0 0 1  0 0 0 0 1  0 0.0 0 0 -1" result="b"/>
<feComposite in="b" in2="SourceGraphic" operator="in" result="sp2"/>
<feMerge><feMergeNode in="SourceGraphic"/><feMergeNode in="sp"/><feMergeNode in="sp2"/></feMerge></filter></defs>
<svg x="1205" y="159.6" width="332" height="198.6" viewBox="50 65 1100 658" preserveAspectRatio="none"><rect x="50" y="65" width="1100" height="370" fill="url(#skyA)"/><rect x="50" y="428" width="1100" height="300" fill="#dbcf9d" filter="url(#nz)"/><polygon points="50,420 215,402 300,388 440,385 490,410 560,428 560,445 330,455 50,440" fill="#c6bb8e" /><polygon points="215,400 460,398 465,410 215,412" fill="#a59a70" /><polygon points="50,505 440,478 452,484 400,500 60,548 50,548" fill="#b0a57a" /><polygon points="58,550 92,548 92,588 58,588" fill="#a59a70" /><polygon points="130,430 160,430 160,448 130,448" fill="#a59a70" /><polygon points="670,470 785,485 742,600 670,592" fill="#b0a67e" /><polygon points="785,485 1150,455 1150,723 742,723 742,600" fill="#e0d4a3" filter="url(#nz)"/><polygon points="742,600 830,598 830,723 742,723" fill="#bdb288" /><polygon points="845,410 1150,405 1150,462 980,452 845,440" fill="#bfb488" /><polygon points="1005,640 1150,670 1150,723 1005,723" fill="#b9ae84" /><polygon points="1080,368 1106,368 1106,405 1080,405" fill="#1c221e" /><polygon points="705,418 728,418 728,440 705,440" fill="#6d6040" /><polygon points="746,410 764,410 764,430 746,430" fill="#8a6a38" /><polygon points="825,723 825,585 880,540 905,560 1005,723" fill="#ecd0b6" /><polygon points="825,723 825,585 880,540 895,723" fill="#dfc6b4" /><rect x="175" y="537" width="82" height="76" rx="12" fill="rgba(198,198,198,0.48)"/><rect x="68" y="630" width="84" height="80" rx="12" fill="#a3c6ee"/><rect x="175" y="630" width="82" height="80" rx="12" fill="rgba(198,198,198,0.48)"/><rect x="285" y="630" width="82" height="80" rx="12" fill="rgba(198,198,198,0.48)"/><text x="215" y="602" font-family='"Liberation Serif", serif' font-size="88" text-anchor="middle" fill="#111">w</text><text transform="translate(109,698) scale(0.83,1)" font-family='"Liberation Serif", serif' font-size="93" text-anchor="middle" fill="#111">A</text><text transform="translate(216,698) scale(0.83,1)" font-family='"Liberation Serif", serif' font-size="93" text-anchor="middle" fill="#111">S</text><text transform="translate(326,698) scale(0.83,1)" font-family='"Liberation Serif", serif' font-size="93" text-anchor="middle" fill="#111">D</text><rect x="918" y="528" width="86" height="84" rx="12" fill="#a3c6ee"/><rect x="918" y="633" width="86" height="78" rx="12" fill="rgba(198,198,198,0.48)"/><rect x="813" y="633" width="84" height="78" rx="12" fill="rgba(198,198,198,0.48)"/><rect x="1025" y="633" width="86" height="78" rx="12" fill="rgba(198,198,198,0.48)"/><path transform="translate(961,571) rotate(0)" d="M-6 30 V-8 H-15 L0 -32 L15 -8 H6 V30 Z" fill="#0a0a0a"/><path transform="translate(961,671) rotate(180)" d="M-6 30 V-8 H-15 L0 -32 L15 -8 H6 V30 Z" fill="#0a0a0a"/><path transform="translate(855,671) rotate(-90)" d="M-6 30 V-8 H-15 L0 -32 L15 -8 H6 V30 Z" fill="#0a0a0a"/><path transform="translate(1068,671) rotate(90)" d="M-6 30 V-8 H-15 L0 -32 L15 -8 H6 V30 Z" fill="#0a0a0a"/><rect x="443" y="672" width="312" height="51" fill="#2b2b22"/><rect x="446" y="683" width="306" height="37" fill="#5a5a3c"/><rect x="446" y="683" width="3" height="37" fill="#3a3a2c"/><rect x="480" y="683" width="3" height="37" fill="#3a3a2c"/><rect x="514" y="683" width="3" height="37" fill="#3a3a2c"/><rect x="548" y="683" width="3" height="37" fill="#3a3a2c"/><rect x="582" y="683" width="3" height="37" fill="#3a3a2c"/><rect x="616" y="683" width="3" height="37" fill="#3a3a2c"/><rect x="650" y="683" width="3" height="37" fill="#3a3a2c"/><rect x="684" y="683" width="3" height="37" fill="#3a3a2c"/><rect x="718" y="683" width="3" height="37" fill="#3a3a2c"/><rect x="446" y="683" width="33" height="36" fill="none" stroke="#d8d8c8" stroke-width="3"/><rect x="443" y="653" width="140" height="15" rx="6" fill="#c23a32"/><rect x="618" y="653" width="137" height="15" rx="6" fill="#8f6a52"/></svg>
<svg x="1205" y="360.6" width="332" height="198.6" viewBox="50 35 1100 658" preserveAspectRatio="none"><rect x="50" y="35" width="1100" height="375" fill="url(#skyA)"/><rect x="50" y="398" width="1100" height="300" fill="#dbcf9d" filter="url(#nz)"/><polygon points="50,375 160,370 160,350 270,348 270,335 360,335 380,350 380,370 430,368 432,392 300,412 50,420" fill="#b9ad84" /><polygon points="50,455 270,445 270,488 140,502 50,505" fill="#b5aa80" /><polygon points="450,380 520,380 540,355 552,355 552,380 568,380 568,392 450,390" fill="#a9c0e6" /><polygon points="260,480 330,430 400,432 500,415 502,440 440,468 440,490 335,510 312,560 285,556 282,520 260,520" fill="#b06c38" filter="url(#nzd)"/><polygon points="530,465 600,452 604,476 560,476" fill="#b3a780" /><polygon points="590,447 650,440 642,470 600,480" fill="#a1633a" /><polygon points="680,440 740,405 790,402 790,380 808,380 808,402 850,430 860,492 830,540 812,660 780,672 775,575 730,570 690,512" fill="#b06c38" filter="url(#nzd)"/><polygon points="778,440 812,440 812,660 782,668" fill="#8f4c20" /><polygon points="990,380 1150,392 1150,490 990,447" fill="#b3a77e" /><polygon points="825,693 825,540 875,500 905,560 1005,693" fill="#ecd0b6" /><polygon points="825,693 825,540 875,500 893,693" fill="#e0cbb9" /><rect x="175" y="507" width="82" height="76" rx="12" fill="rgba(198,198,198,0.48)"/><rect x="68" y="600" width="84" height="80" rx="12" fill="rgba(198,198,198,0.48)"/><rect x="175" y="600" width="82" height="80" rx="12" fill="rgba(198,198,198,0.48)"/><rect x="285" y="600" width="82" height="80" rx="12" fill="rgba(198,198,198,0.48)"/><text x="215" y="572" font-family='"Liberation Serif", serif' font-size="88" text-anchor="middle" fill="#111">w</text><text transform="translate(109,668) scale(0.83,1)" font-family='"Liberation Serif", serif' font-size="93" text-anchor="middle" fill="#111">A</text><text transform="translate(216,668) scale(0.83,1)" font-family='"Liberation Serif", serif' font-size="93" text-anchor="middle" fill="#111">S</text><text transform="translate(326,668) scale(0.83,1)" font-family='"Liberation Serif", serif' font-size="93" text-anchor="middle" fill="#111">D</text><rect x="918" y="498" width="86" height="84" rx="12" fill="#a3c6ee"/><rect x="918" y="603" width="86" height="78" rx="12" fill="rgba(198,198,198,0.48)"/><rect x="813" y="603" width="84" height="78" rx="12" fill="rgba(198,198,198,0.48)"/><rect x="1025" y="603" width="86" height="78" rx="12" fill="rgba(198,198,198,0.48)"/><path transform="translate(961,541) rotate(0)" d="M-6 30 V-8 H-15 L0 -32 L15 -8 H6 V30 Z" fill="#0a0a0a"/><path transform="translate(961,641) rotate(180)" d="M-6 30 V-8 H-15 L0 -32 L15 -8 H6 V30 Z" fill="#0a0a0a"/><path transform="translate(855,641) rotate(-90)" d="M-6 30 V-8 H-15 L0 -32 L15 -8 H6 V30 Z" fill="#0a0a0a"/><path transform="translate(1068,641) rotate(90)" d="M-6 30 V-8 H-15 L0 -32 L15 -8 H6 V30 Z" fill="#0a0a0a"/><rect x="443" y="642" width="312" height="51" fill="#2b2b22"/><rect x="446" y="653" width="306" height="37" fill="#5a5a3c"/><rect x="446" y="653" width="3" height="37" fill="#3a3a2c"/><rect x="480" y="653" width="3" height="37" fill="#3a3a2c"/><rect x="514" y="653" width="3" height="37" fill="#3a3a2c"/><rect x="548" y="653" width="3" height="37" fill="#3a3a2c"/><rect x="582" y="653" width="3" height="37" fill="#3a3a2c"/><rect x="616" y="653" width="3" height="37" fill="#3a3a2c"/><rect x="650" y="653" width="3" height="37" fill="#3a3a2c"/><rect x="684" y="653" width="3" height="37" fill="#3a3a2c"/><rect x="718" y="653" width="3" height="37" fill="#3a3a2c"/><rect x="446" y="653" width="33" height="36" fill="none" stroke="#d8d8c8" stroke-width="3"/><rect x="443" y="623" width="140" height="15" rx="6" fill="#c23a32"/><rect x="618" y="623" width="137" height="15" rx="6" fill="#8f6a52"/></svg>
<svg x="1205" y="561.6" width="332" height="198.6" viewBox="50 55 1100 658" preserveAspectRatio="none"><rect x="50" y="55" width="1100" height="360" fill="url(#skyA)"/><polygon points="50,400 700,388 800,420 50,450" fill="#ddd09e" /><polygon points="50,285 150,305 330,360 372,395 50,412" fill="#b5aa82" filter="url(#nz)"/><polygon points="50,340 100,340 100,365 50,365" fill="#b4683c" /><polygon points="50,445 320,428 800,415 900,400 1150,400 1150,713 50,713" fill="#8c4e36" filter="url(#nzd)"/><polygon points="700,392 860,378 1000,352 1150,340 1150,713 1010,713 930,540 860,470 800,420" fill="#b8321a" filter="url(#nzd)"/><polygon points="690,392 760,388 760,408 690,410" fill="#c9946a" /><polygon points="50,570 325,515 325,713 50,713" fill="#e0d4a4" filter="url(#nz)"/><polygon points="478,363 516,363 516,403 478,403" fill="#20241f" /><polygon points="912,320 942,320 940,375 918,375" fill="#a58a5a" /><polygon points="825,713 828,560 880,525 930,580 1010,713" fill="#f1e4d4" /><polygon points="825,713 828,560 880,525 900,713" fill="#e3cdb8" /><rect x="175" y="527" width="82" height="76" rx="12" fill="rgba(198,198,198,0.48)"/><rect x="68" y="620" width="84" height="80" rx="12" fill="rgba(198,198,198,0.48)"/><rect x="175" y="620" width="82" height="80" rx="12" fill="rgba(198,198,198,0.48)"/><rect x="285" y="620" width="82" height="80" rx="12" fill="rgba(198,198,198,0.48)"/><text x="215" y="592" font-family='"Liberation Serif", serif' font-size="88" text-anchor="middle" fill="#111">w</text><text transform="translate(109,688) scale(0.83,1)" font-family='"Liberation Serif", serif' font-size="93" text-anchor="middle" fill="#111">A</text><text transform="translate(216,688) scale(0.83,1)" font-family='"Liberation Serif", serif' font-size="93" text-anchor="middle" fill="#111">S</text><text transform="translate(326,688) scale(0.83,1)" font-family='"Liberation Serif", serif' font-size="93" text-anchor="middle" fill="#111">D</text><rect x="918" y="518" width="86" height="84" rx="12" fill="#a3c6ee"/><rect x="918" y="623" width="86" height="78" rx="12" fill="rgba(198,198,198,0.48)"/><rect x="813" y="623" width="84" height="78" rx="12" fill="rgba(198,198,198,0.48)"/><rect x="1025" y="623" width="86" height="78" rx="12" fill="rgba(170,150,150,0.8)"/><path transform="translate(961,561) rotate(0)" d="M-6 30 V-8 H-15 L0 -32 L15 -8 H6 V30 Z" fill="#0a0a0a"/><path transform="translate(961,661) rotate(180)" d="M-6 30 V-8 H-15 L0 -32 L15 -8 H6 V30 Z" fill="#0a0a0a"/><path transform="translate(855,661) rotate(-90)" d="M-6 30 V-8 H-15 L0 -32 L15 -8 H6 V30 Z" fill="#0a0a0a"/><path transform="translate(1068,661) rotate(90)" d="M-6 30 V-8 H-15 L0 -32 L15 -8 H6 V30 Z" fill="#0a0a0a"/><rect x="443" y="662" width="312" height="51" fill="#2b2b22"/><rect x="446" y="673" width="306" height="37" fill="#5a5a3c"/><rect x="446" y="673" width="3" height="37" fill="#3a3a2c"/><rect x="480" y="673" width="3" height="37" fill="#3a3a2c"/><rect x="514" y="673" width="3" height="37" fill="#3a3a2c"/><rect x="548" y="673" width="3" height="37" fill="#3a3a2c"/><rect x="582" y="673" width="3" height="37" fill="#3a3a2c"/><rect x="616" y="673" width="3" height="37" fill="#3a3a2c"/><rect x="650" y="673" width="3" height="37" fill="#3a3a2c"/><rect x="684" y="673" width="3" height="37" fill="#3a3a2c"/><rect x="718" y="673" width="3" height="37" fill="#3a3a2c"/><rect x="446" y="673" width="33" height="36" fill="none" stroke="#d8d8c8" stroke-width="3"/><rect x="443" y="643" width="140" height="15" rx="6" fill="#c23a32"/><rect x="618" y="643" width="137" height="15" rx="6" fill="#8f6a52"/></svg>
<svg x="2814.2" y="156.6" width="331.7" height="199.2" viewBox="47 55 1099 660" preserveAspectRatio="none"><rect x="47" y="55" width="1099" height="660" fill="#885232" filter="url(#nzd)"/><polygon points="47,55 1060,55 960,72 900,100 820,122 720,135 640,162 600,190 490,250 47,198" fill="url(#skyB)" /><polygon points="440,52 750,52 750,58 440,58" fill="#3a4048" /><polygon points="47,195 520,250 620,255 720,240 722,258 620,275 520,273 47,222" fill="#e3e9ec" /><polygon points="47,252 540,295 650,295 650,316 540,318 47,285" fill="#e3e9ec" /><polygon points="47,335 565,352 565,375 47,368" fill="#e3e9ec" /><polygon points="690,285 760,285 760,308 690,308" fill="#e3e9ec" /><polygon points="620,355 690,355 690,375 620,375" fill="#e3e9ec" /><polygon points="750,350 825,350 825,372 750,372" fill="#e3e9ec" /><polygon points="875,348 972,348 972,372 875,372" fill="#e3e9ec" /><polygon points="900,285 995,280 995,305 900,310" fill="#e3e9ec" /><polygon points="940,232 1022,227 1022,250 940,256" fill="#e3e9ec" /><polygon points="760,225 830,212 895,228 895,250 830,235 760,250" fill="#e3e9ec" /><polygon points="730,180 815,176 815,200 730,206" fill="#e3e9ec" /><polygon points="850,170 930,165 930,188 850,194" fill="#e3e9ec" /><polygon points="600,190 640,160 720,132 775,150 775,165 720,150 650,180 640,200" fill="#e3e9ec" /><polygon points="780,140 830,118 900,135 950,120 955,140 900,158 830,140 785,160" fill="#e3e9ec" /><polygon points="960,150 1040,115 1055,130 1060,150 1040,135 965,165" fill="#e3e9ec" /><polygon points="1075,205 1146,188 1146,212 1075,222" fill="#e3e9ec" /><polygon points="1060,302 1146,300 1146,320 1060,322" fill="#e3e9ec" /><polygon points="1020,100 1090,62 1110,70 1110,95 1090,80 1025,112" fill="#e3e9ec" /><polygon points="930,85 980,62 1020,85 1020,100 980,78 935,100" fill="#e3e9ec" /><polygon points="820,125 900,72 930,85 900,90 830,135" fill="#e3e9ec" /><polygon points="480,250 500,232 660,210 670,225 520,248" fill="#e3e9ec" /><polygon points="1020,305 1058,305 1058,410 1020,410" fill="#8f918f" /><polygon points="47,432 600,415 1146,415 1146,462 1042,430 856,492 600,442 160,468 120,445 47,462" fill="#dce4e8" /><polygon points="47,462 120,445 120,478 47,500" fill="#c8d0d6" /><polygon points="40,600 120,582 180,545 590,485 830,575 1050,512 1153,526 1153,722 40,722" fill="#f1f6f8" /><polygon points="822,715 822,570 870,525 930,560 1000,715" fill="#f2cda4" /><polygon points="822,715 822,570 870,525 900,715" fill="#e9c49c" /><rect x="181" y="525" width="82" height="76" rx="12" fill="rgba(198,198,198,0.48)"/><rect x="74" y="618" width="84" height="80" rx="12" fill="#a3c6ee"/><rect x="181" y="618" width="82" height="80" rx="12" fill="rgba(198,198,198,0.48)"/><rect x="291" y="618" width="82" height="80" rx="12" fill="rgba(198,198,198,0.48)"/><text x="221" y="590" font-family='"Liberation Serif", serif' font-size="88" text-anchor="middle" fill="#111">w</text><text transform="translate(115,686) scale(0.83,1)" font-family='"Liberation Serif", serif' font-size="93" text-anchor="middle" fill="#111">A</text><text transform="translate(222,686) scale(0.83,1)" font-family='"Liberation Serif", serif' font-size="93" text-anchor="middle" fill="#111">S</text><text transform="translate(332,686) scale(0.83,1)" font-family='"Liberation Serif", serif' font-size="93" text-anchor="middle" fill="#111">D</text><rect x="926" y="516" width="86" height="84" rx="12" fill="rgba(198,198,198,0.48)"/><rect x="926" y="621" width="86" height="78" rx="12" fill="rgba(198,198,198,0.48)"/><rect x="821" y="621" width="84" height="78" rx="12" fill="rgba(198,198,198,0.48)"/><rect x="1033" y="621" width="86" height="78" rx="12" fill="rgba(198,198,198,0.48)"/><path transform="translate(969,559) rotate(0)" d="M-6 30 V-8 H-15 L0 -32 L15 -8 H6 V30 Z" fill="#0a0a0a"/><path transform="translate(969,659) rotate(180)" d="M-6 30 V-8 H-15 L0 -32 L15 -8 H6 V30 Z" fill="#0a0a0a"/><path transform="translate(863,659) rotate(-90)" d="M-6 30 V-8 H-15 L0 -32 L15 -8 H6 V30 Z" fill="#0a0a0a"/><path transform="translate(1076,659) rotate(90)" d="M-6 30 V-8 H-15 L0 -32 L15 -8 H6 V30 Z" fill="#0a0a0a"/><rect x="440" y="662" width="312" height="51" fill="#2b2b22"/><rect x="443" y="673" width="306" height="37" fill="#7d8276"/><rect x="443" y="673" width="3" height="37" fill="#3a3a2c"/><rect x="477" y="673" width="3" height="37" fill="#3a3a2c"/><rect x="511" y="673" width="3" height="37" fill="#3a3a2c"/><rect x="545" y="673" width="3" height="37" fill="#3a3a2c"/><rect x="579" y="673" width="3" height="37" fill="#3a3a2c"/><rect x="613" y="673" width="3" height="37" fill="#3a3a2c"/><rect x="647" y="673" width="3" height="37" fill="#3a3a2c"/><rect x="681" y="673" width="3" height="37" fill="#3a3a2c"/><rect x="715" y="673" width="3" height="37" fill="#3a3a2c"/><rect x="443" y="673" width="33" height="36" fill="none" stroke="#d8d8c8" stroke-width="3"/><rect x="440" y="643" width="140" height="15" rx="6" fill="#c23a32"/><rect x="615" y="643" width="137" height="15" rx="6" fill="#8f6a52"/></svg>
<svg x="2814.2" y="361.5" width="331.7" height="199.2" viewBox="47 38 1099 660" preserveAspectRatio="none"><rect x="47" y="38" width="1099" height="400" fill="url(#skyB)"/><polygon points="47,315 215,310 330,295 470,320 600,315 600,345 47,345" fill="#6a8a7a" /><polygon points="215,300 232,285 330,298 330,330 215,330" fill="#885232" /><polygon points="215,296 232,282 330,294 330,306 232,296" fill="#e3e9ec" /><polygon points="760,258 1146,188 1146,208 765,272" fill="#e3e9ec" /><polygon points="762,270 1146,206 1146,250 770,292" fill="#885232" filter="url(#nzd)"/><polygon points="560,305 1146,246 1146,272 480,332" fill="#e3e9ec" /><polygon points="480,330 1146,270 1146,325 480,345" fill="#885232" filter="url(#nzd)"/><polygon points="47,322 250,318 460,338 1146,320 1146,352 470,360 47,352" fill="#e3e9ec" /><polygon points="47,350 470,358 1146,350 1146,408 47,410" fill="#885232" filter="url(#nzd)"/><polygon points="47,460 160,440 400,425 500,415 670,440 850,425 1146,440 1146,508 850,478 670,502 500,460 402,480 402,505 160,557 47,545" fill="#885232" filter="url(#nzd)"/><polygon points="47,408 370,400 500,390 750,402 1146,405 1146,442 850,427 670,442 500,417 400,427 160,442 47,462" fill="#e2e8ec" /><polygon points="47,545 160,557 402,505 402,480 500,460 670,502 850,478 1146,508 1146,698 47,698" fill="#f1f6f8" /><polygon points="580,245 600,270 592,270 608,296 586,296 586,312 575,312 575,296 552,296 570,270 560,270" fill="#1f3a2e" /><polygon points="822,698 822,540 872,510 935,560 1000,698" fill="#f5d7b4" /><polygon points="822,698 822,540 872,510 900,698" fill="#eccba6" /><rect x="181" y="495" width="82" height="76" rx="12" fill="rgba(198,198,198,0.48)"/><rect x="74" y="588" width="84" height="80" rx="12" fill="#a3c6ee"/><rect x="181" y="588" width="82" height="80" rx="12" fill="rgba(198,198,198,0.48)"/><rect x="291" y="588" width="82" height="80" rx="12" fill="rgba(198,198,198,0.48)"/><text x="221" y="560" font-family='"Liberation Serif", serif' font-size="88" text-anchor="middle" fill="#111">w</text><text transform="translate(115,656) scale(0.83,1)" font-family='"Liberation Serif", serif' font-size="93" text-anchor="middle" fill="#111">A</text><text transform="translate(222,656) scale(0.83,1)" font-family='"Liberation Serif", serif' font-size="93" text-anchor="middle" fill="#111">S</text><text transform="translate(332,656) scale(0.83,1)" font-family='"Liberation Serif", serif' font-size="93" text-anchor="middle" fill="#111">D</text><rect x="926" y="486" width="86" height="84" rx="12" fill="rgba(198,198,198,0.48)"/><rect x="926" y="591" width="86" height="78" rx="12" fill="rgba(198,198,198,0.48)"/><rect x="821" y="591" width="84" height="78" rx="12" fill="rgba(198,198,198,0.48)"/><rect x="1033" y="591" width="86" height="78" rx="12" fill="rgba(198,198,198,0.48)"/><path transform="translate(969,529) rotate(0)" d="M-6 30 V-8 H-15 L0 -32 L15 -8 H6 V30 Z" fill="#0a0a0a"/><path transform="translate(969,629) rotate(180)" d="M-6 30 V-8 H-15 L0 -32 L15 -8 H6 V30 Z" fill="#0a0a0a"/><path transform="translate(863,629) rotate(-90)" d="M-6 30 V-8 H-15 L0 -32 L15 -8 H6 V30 Z" fill="#0a0a0a"/><path transform="translate(1076,629) rotate(90)" d="M-6 30 V-8 H-15 L0 -32 L15 -8 H6 V30 Z" fill="#0a0a0a"/><rect x="440" y="645" width="312" height="51" fill="#2b2b22"/><rect x="443" y="656" width="306" height="37" fill="#7d8276"/><rect x="443" y="656" width="3" height="37" fill="#3a3a2c"/><rect x="477" y="656" width="3" height="37" fill="#3a3a2c"/><rect x="511" y="656" width="3" height="37" fill="#3a3a2c"/><rect x="545" y="656" width="3" height="37" fill="#3a3a2c"/><rect x="579" y="656" width="3" height="37" fill="#3a3a2c"/><rect x="613" y="656" width="3" height="37" fill="#3a3a2c"/><rect x="647" y="656" width="3" height="37" fill="#3a3a2c"/><rect x="681" y="656" width="3" height="37" fill="#3a3a2c"/><rect x="715" y="656" width="3" height="37" fill="#3a3a2c"/><rect x="443" y="656" width="33" height="36" fill="none" stroke="#d8d8c8" stroke-width="3"/><rect x="440" y="626" width="140" height="15" rx="6" fill="#c23a32"/><rect x="615" y="626" width="137" height="15" rx="6" fill="#8f6a52"/></svg>
<svg x="2814.2" y="567.2" width="331.7" height="198.6" viewBox="47 57 1099 658" preserveAspectRatio="none"><rect x="47" y="57" width="1099" height="360" fill="url(#skyB)"/><polygon points="47,395 1146,398 1146,715 47,715" fill="#f1f6f8" /><polygon points="790,394 822,390 828,376 848,376 854,390 1146,397 1146,407 790,404" fill="#8f979f" /><polygon points="800,408 848,408 848,442 800,442" fill="#8a6a52" /><polygon points="800,405 848,405 848,420 800,420" fill="#e3e9ec" /><polygon points="845,405 868,405 868,432 845,432" fill="#8f7a68" /><polygon points="47,197 470,265 495,292 47,218" fill="#e3e9ec" /><polygon points="47,216 470,275 482,294 47,257" fill="#885232" filter="url(#nzd)"/><polygon points="47,255 670,322 676,336 47,287" fill="#e3e9ec" /><polygon points="47,285 672,332 676,354 47,336" fill="#885232" filter="url(#nzd)"/><polygon points="47,335 720,365 724,377 47,364" fill="#e3e9ec" /><polygon points="47,362 722,372 724,402 47,422" fill="#885232" filter="url(#nzd)"/><polygon points="47,425 780,400 782,417 200,447 180,430 47,467" fill="#dfe6ea" /><polygon points="47,465 180,448 782,415 782,440 350,490 47,540" fill="#885232" filter="url(#nzd)"/><polygon points="817,715 817,555 870,525 940,572 992,715" fill="#f3dcc2" /><polygon points="817,715 817,555 870,525 885,715" fill="#ead0b4" /><rect x="181" y="494" width="82" height="76" rx="12" fill="rgba(198,198,198,0.48)"/><rect x="74" y="587" width="84" height="80" rx="12" fill="rgba(198,198,198,0.48)"/><rect x="181" y="587" width="82" height="80" rx="12" fill="rgba(198,198,198,0.48)"/><rect x="291" y="587" width="82" height="80" rx="12" fill="#a3c6ee"/><text x="221" y="559" font-family='"Liberation Serif", serif' font-size="88" text-anchor="middle" fill="#111">w</text><text transform="translate(115,655) scale(0.83,1)" font-family='"Liberation Serif", serif' font-size="93" text-anchor="middle" fill="#111">A</text><text transform="translate(222,655) scale(0.83,1)" font-family='"Liberation Serif", serif' font-size="93" text-anchor="middle" fill="#111">S</text><text transform="translate(332,655) scale(0.83,1)" font-family='"Liberation Serif", serif' font-size="93" text-anchor="middle" fill="#111">D</text><rect x="926" y="485" width="86" height="84" rx="12" fill="rgba(198,198,198,0.48)"/><rect x="926" y="590" width="86" height="78" rx="12" fill="rgba(198,198,198,0.48)"/><rect x="821" y="590" width="84" height="78" rx="12" fill="rgba(198,198,198,0.48)"/><rect x="1033" y="590" width="86" height="78" rx="12" fill="rgba(198,198,198,0.48)"/><path transform="translate(969,528) rotate(0)" d="M-6 30 V-8 H-15 L0 -32 L15 -8 H6 V30 Z" fill="#0a0a0a"/><path transform="translate(969,628) rotate(180)" d="M-6 30 V-8 H-15 L0 -32 L15 -8 H6 V30 Z" fill="#0a0a0a"/><path transform="translate(863,628) rotate(-90)" d="M-6 30 V-8 H-15 L0 -32 L15 -8 H6 V30 Z" fill="#0a0a0a"/><path transform="translate(1076,628) rotate(90)" d="M-6 30 V-8 H-15 L0 -32 L15 -8 H6 V30 Z" fill="#0a0a0a"/><rect x="440" y="664" width="312" height="51" fill="#2b2b22"/><rect x="443" y="675" width="306" height="37" fill="#7d8276"/><rect x="443" y="675" width="3" height="37" fill="#3a3a2c"/><rect x="477" y="675" width="3" height="37" fill="#3a3a2c"/><rect x="511" y="675" width="3" height="37" fill="#3a3a2c"/><rect x="545" y="675" width="3" height="37" fill="#3a3a2c"/><rect x="579" y="675" width="3" height="37" fill="#3a3a2c"/><rect x="613" y="675" width="3" height="37" fill="#3a3a2c"/><rect x="647" y="675" width="3" height="37" fill="#3a3a2c"/><rect x="681" y="675" width="3" height="37" fill="#3a3a2c"/><rect x="715" y="675" width="3" height="37" fill="#3a3a2c"/><rect x="443" y="675" width="33" height="36" fill="none" stroke="#d8d8c8" stroke-width="3"/><rect x="440" y="645" width="140" height="15" rx="6" fill="#c23a32"/><rect x="615" y="645" width="137" height="15" rx="6" fill="#8f6a52"/></svg>
</svg>
<div class="t" style="left:-816.0px;width:2000px;text-align:center;top:25.0px;font-size:53.2px;line-height:53.2px;color:#e97132;font-weight:bold;font-style:normal;font-family:"Liberation Sans", sans-serif;">Spatial</div>
<div class="t" style="left:-816.0px;width:2000px;text-align:center;top:89.0px;font-size:53.2px;line-height:53.2px;color:#e97132;font-weight:bold;font-style:normal;font-family:"Liberation Sans", sans-serif;">Memory</div>
<div class="t" style="left:-478.5px;width:2000px;text-align:center;top:25.0px;font-size:53.2px;line-height:53.2px;color:#4ea72e;font-weight:bold;font-style:normal;font-family:"Liberation Sans", sans-serif;">Temporal</div>
<div class="t" style="left:-478.5px;width:2000px;text-align:center;top:89.0px;font-size:53.2px;line-height:53.2px;color:#4ea72e;font-weight:bold;font-style:normal;font-family:"Liberation Sans", sans-serif;">Memory</div>
<div class="t" style="left:-229.0px;width:2000px;text-align:center;top:25.0px;font-size:53.2px;line-height:53.2px;color:#6b0000;font-weight:bold;font-style:normal;font-family:"Liberation Sans", sans-serif;">Current</div>
<div class="t" style="left:-222.0px;width:2000px;text-align:center;top:89.0px;font-size:53.2px;line-height:53.2px;color:#6b0000;font-weight:bold;font-style:normal;font-family:"Liberation Sans", sans-serif;">Frame</div>
<div class="t" style="left:18.0px;width:2000px;text-align:center;top:57.2px;font-size:53.2px;line-height:53.2px;color:#4085c5;font-weight:bold;font-style:normal;font-family:"Liberation Sans", sans-serif;">Action</div>
<div class="t" style="left:60.0px;text-align:left;top:370.8px;font-size:53.4px;line-height:53.4px;color:#404040;font-weight:normal;font-style:normal;font-family:"Liberation Sans", sans-serif;">Autoregressive Video Diffusion Transformer</div>
<div class="t" style="left:1039.5px;text-align:left;top:137.7px;font-size:43.2px;line-height:43.2px;color:#4085c5;font-weight:normal;font-style:italic;font-family:"Liberation Sans", sans-serif;">“Turn</div>
<div class="t" style="left:1030.0px;text-align:left;top:193.0px;font-size:44px;line-height:44px;color:#4085c5;font-weight:normal;font-style:italic;font-family:"Liberation Sans", sans-serif;">Right ”</div>
<div class="t" style="left:-756.0px;width:2000px;text-align:center;top:694.8px;font-size:46.3px;line-height:46.3px;color:#404040;font-weight:normal;font-style:normal;font-family:"Liberation Sans", sans-serif;">Dataset</div>
<div class="t" style="left:-257.0px;width:2000px;text-align:center;top:694.8px;font-size:46.3px;line-height:46.3px;color:#404040;font-weight:normal;font-style:normal;font-family:"Liberation Sans", sans-serif;">Memory</div>
<div class="t" style="left:-497.0px;width:2000px;text-align:center;top:544.1px;font-size:40px;line-height:40px;color:#c00000;font-weight:normal;font-style:normal;font-family:"Liberation Sans", sans-serif;">Virtual</div>
<div class="t" style="left:-497.0px;width:2000px;text-align:center;top:616.1px;font-size:40px;line-height:40px;color:#c00000;font-weight:normal;font-style:normal;font-family:"Liberation Sans", sans-serif;">Traject</div>
<div class="t" style="left:20.0px;width:2000px;text-align:center;top:638.0px;font-size:53.2px;line-height:53.2px;color:#4085c5;font-weight:bold;font-style:normal;font-family:"Liberation Sans", sans-serif;">Next</div>
<div class="t" style="left:20.0px;width:2000px;text-align:center;top:701.0px;font-size:53.2px;line-height:53.2px;color:#4085c5;font-weight:bold;font-style:normal;font-family:"Liberation Sans", sans-serif;">Frame</div>
<div class="t" style="left:367.8px;width:2000px;text-align:center;top:57.4px;font-size:53.6px;line-height:53.6px;color:#c00000;font-weight:bold;font-style:italic;font-family:"Liberation Sans", sans-serif;">FAIL!</div>
<div class="t" style="left:310.0px;text-align:left;top:802.8px;font-size:53.45px;line-height:53.45px;color:#000;font-weight:bold;font-style:normal;font-family:"Liberation Sans", sans-serif;">(a) Rely on Long-term Spatial Memory</div>
<div class="t" style="left:924.0px;width:2000px;text-align:center;top:56.0px;font-size:53.2px;line-height:53.2px;color:#4ea72e;font-weight:bold;font-style:normal;font-family:"Liberation Sans", sans-serif;">Temporal Memory</div>
<div class="t" style="left:1327.0px;width:2000px;text-align:center;top:25.0px;font-size:53.2px;line-height:53.2px;color:#6b0000;font-weight:bold;font-style:normal;font-family:"Liberation Sans", sans-serif;">Current</div>
<div class="t" style="left:1333.0px;width:2000px;text-align:center;top:89.0px;font-size:53.2px;line-height:53.2px;color:#6b0000;font-weight:bold;font-style:normal;font-family:"Liberation Sans", sans-serif;">Frame</div>
<div class="t" style="left:1575.0px;width:2000px;text-align:center;top:57.2px;font-size:53.2px;line-height:53.2px;color:#4085c5;font-weight:bold;font-style:normal;font-family:"Liberation Sans", sans-serif;">Action</div>
<div class="t" style="left:1646.0px;text-align:left;top:370.8px;font-size:53.4px;line-height:53.4px;color:#404040;font-weight:normal;font-style:normal;font-family:"Liberation Sans", sans-serif;">Autoregressive Video Diffusion Transformer</div>
<div class="t" style="left:2583.0px;text-align:left;top:142.8px;font-size:44px;line-height:44px;color:#4085c5;font-weight:normal;font-style:italic;font-family:"Liberation Sans", sans-serif;">“Move</div>
<div class="t" style="left:2577.0px;text-align:left;top:198.8px;font-size:44px;line-height:44px;color:#4085c5;font-weight:normal;font-style:italic;font-family:"Liberation Sans", sans-serif;">Forward ”</div>
<div class="t" style="left:851.0px;width:2000px;text-align:center;top:694.8px;font-size:46.3px;line-height:46.3px;color:#000;font-weight:normal;font-style:normal;font-family:"Liberation Sans", sans-serif;">Dataset</div>
<div class="t" style="left:1338.0px;width:2000px;text-align:center;top:694.8px;font-size:46.3px;line-height:46.3px;color:#000;font-weight:normal;font-style:normal;font-family:"Liberation Sans", sans-serif;">Memory</div>
<div class="t" style="left:1084.0px;width:2000px;text-align:center;top:530.6px;font-size:40px;line-height:40px;color:#c00000;font-weight:normal;font-style:normal;font-family:"Liberation Sans", sans-serif;">Player</div>
<div class="t" style="left:1085.0px;width:2000px;text-align:center;top:604.9px;font-size:40px;line-height:40px;color:#c00000;font-weight:normal;font-style:normal;font-family:"Liberation Sans", sans-serif;">Traject</div>
<div class="t" style="left:1577.0px;width:2000px;text-align:center;top:638.0px;font-size:53.2px;line-height:53.2px;color:#4085c5;font-weight:bold;font-style:normal;font-family:"Liberation Sans", sans-serif;">Next</div>
<div class="t" style="left:1577.0px;width:2000px;text-align:center;top:701.0px;font-size:53.2px;line-height:53.2px;color:#4085c5;font-weight:bold;font-style:normal;font-family:"Liberation Sans", sans-serif;">Frame</div>
<div class="t" style="left:1979.0px;width:2000px;text-align:center;top:57.4px;font-size:53.6px;line-height:53.6px;color:#c00000;font-weight:bold;font-style:italic;font-family:"Liberation Sans", sans-serif;">FAIL!</div>
<div class="t" style="left:1864.0px;text-align:left;top:802.8px;font-size:53.45px;line-height:53.45px;color:#000;font-weight:bold;font-style:normal;font-family:"Liberation Sans", sans-serif;">(b) Rely on Short-term Temporal Memory</div>
<div class="t" style="left:694.0px;width:2000px;text-align:center;top:636.3px;font-size:24.5px;line-height:24.5px;color:#3b3b3b;font-weight:bold;font-style:normal;font-family:"Liberation Sans", sans-serif;">HUMAN</div>
<div class="t" style="left:695.5px;width:2000px;text-align:center;top:662.1px;font-size:24.5px;line-height:24.5px;color:#3b3b3b;font-weight:bold;font-style:normal;font-family:"Liberation Sans", sans-serif;">PLAYER</div>
<div class="t" style="left:840.2px;width:2000px;text-align:center;top:641.6px;font-size:28.5px;line-height:28.5px;color:#333;font-weight:bold;font-style:normal;font-family:"Liberation Sans", sans-serif;">VPT</div>
</div>
</body></html>
